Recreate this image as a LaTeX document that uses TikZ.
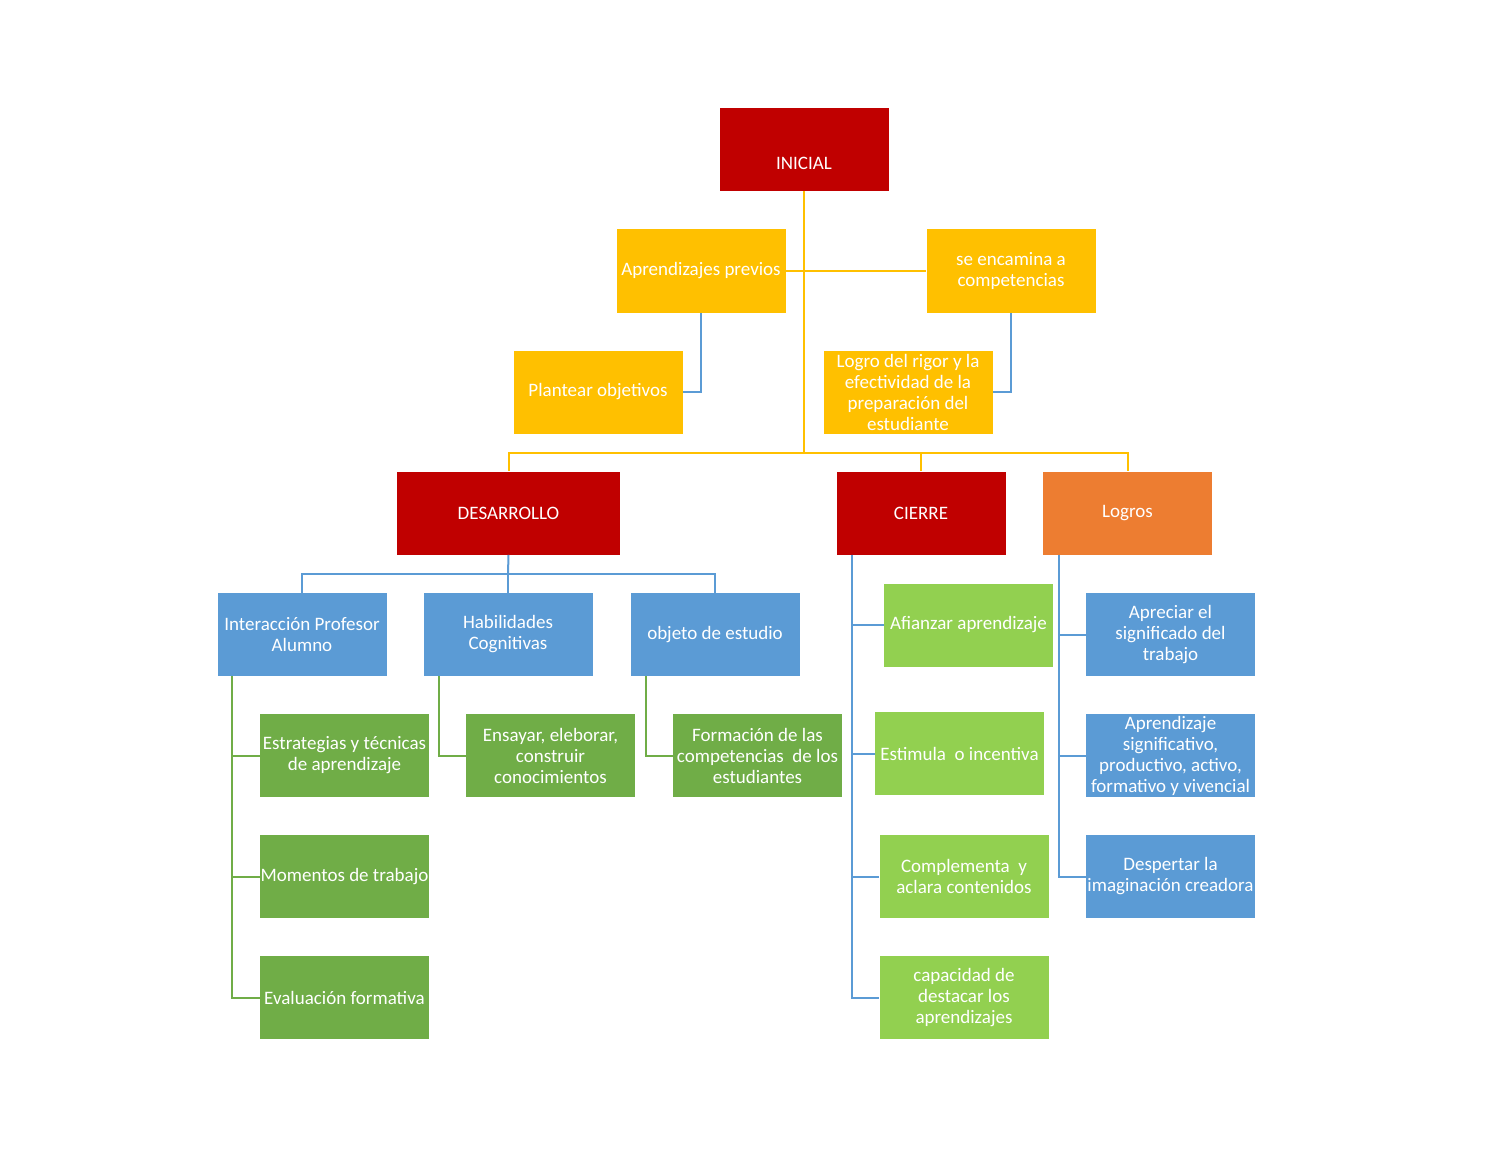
\documentclass[tikz,border=0pt]{standalone}
\usepackage{fontspec}
\setmainfont{Carlito}
\usepackage{tikz}
\usepackage{xcolor}

\definecolor{rojo}{HTML}{C00000}
\definecolor{amarillo}{HTML}{FFC000}
\definecolor{naranja}{HTML}{ED7D31}
\definecolor{azul}{HTML}{5B9BD5}
\definecolor{verde}{HTML}{70AD47}
\definecolor{verdeclaro}{HTML}{92D050}

\begin{document}
\begin{tikzpicture}[x=0.5pt,y=0.5pt,yscale=-1,xscale=1,
  caja/.style={inner sep=0pt,minimum width=84.5pt,minimum height=41.5pt,align=center,text=white,
    font=\fontsize{9.5}{10.5}\selectfont},
  linea/.style={line width=1pt}]
\useasboundingbox (0,0) rectangle (1496,1156);

% Nivel inicial
\node [caja,fill=rojo] (inicial) at (804,149.5) {\smash{\raisebox{-10pt}{INICIAL}}};
\node [caja,fill=amarillo] (previos) at (701,271) {Aprendizajes previos};
\node [caja,fill=amarillo] (encamina) at (1011,271) {se encamina a\\competencias};
\node [caja,fill=amarillo] (plantear) at (598,392) {Plantear objetivos};
\node [caja,fill=amarillo] (logro) at (908,392) {Logro del rigor y la\\efectividad de la\\preparación del\\estudiante};

% Segundo nivel
\node [caja,minimum width=111.5pt,fill=rojo] (desarrollo) at (508.5,513) {DESARROLLO};
\node [caja,fill=rojo] (cierre) at (921,513) {CIERRE};
\node [caja,fill=naranja] (logros) at (1127.5,513) {Logros};

% Desarrollo
\node [caja,fill=azul] (interaccion) at (302,634.5) {Interacción Profesor\\Alumno};
\node [caja,fill=azul] (habilidades) at (508,634.5) {Habilidades\\Cognitivas};
\node [caja,fill=azul] (objeto) at (715,634.5) {objeto de estudio};
\node [caja,fill=verde] (estrategias) at (344.5,755.5) {Estrategias y técnicas\\de aprendizaje};
\node [caja,fill=verde] (ensayar) at (550.5,755.5) {Ensayar, eleborar,\\construir\\conocimientos};
\node [caja,fill=verde] (formacion) at (757.5,755.5) {Formación de las\\competencias\ \ de los\\estudiantes};
\node [caja,fill=verde] (momentos) at (344.5,876.5) {Momentos de trabajo};
\node [caja,fill=verde] (evaluacion) at (344.5,997.5) {Evaluación formativa};

% Cierre
\node [caja,fill=verdeclaro] (afianzar) at (968.5,625) {Afianzar aprendizaje};
\node [caja,fill=verdeclaro] (estimula) at (959.5,753.5) {Estimula\ \ o incentiva};
\node [caja,fill=verdeclaro] (complementa) at (964,876.5) {Complementa\ \ y\\aclara contenidos};
\node [caja,fill=verdeclaro] (capacidad) at (964,997.5) {capacidad de\\destacar los\\aprendizajes};

% Logros
\node [caja,fill=azul] (apreciar) at (1170.5,634.5) {Apreciar el\\significado del\\trabajo};
\node [caja,fill=azul] (significativo) at (1170.5,755.5) {Aprendizaje\\significativo,\\productivo, activo,\\formativo y vivencial};
\node [caja,fill=azul] (despertar) at (1170.5,876.5) {Despertar la\\imaginación creadora};

\coordinate (bus) at (804,453);
\coordinate (dbus) at (508,574);

%Lineas amarillas
\draw [linea,amarillo] (inicial.south) -- (bus);
\draw [linea,amarillo] (previos.east) -- (encamina.west);
\draw [linea,amarillo] (desarrollo.north) |- (bus) -| (logros.north);
\draw [linea,amarillo] (cierre.north) -- (cierre.north |- bus);

%Lineas azules
\draw [linea,azul] (previos.south) |- (plantear.east);
\draw [linea,azul] (encamina.south) |- (logro.east);
\draw [linea,azul] (desarrollo.south) -- (dbus);
\draw [linea,azul] (interaccion.north) |- (dbus) -| (objeto.north);
\draw [linea,azul] (habilidades.north) -- (dbus);
\draw [linea,azul] ([xshift=8pt]cierre.south west) |- (capacidad.west);
\draw [linea,azul] ([xshift=8pt]cierre.south west) |- (afianzar.west);
\draw [linea,azul] ([xshift=8pt]cierre.south west) |- (estimula.west);
\draw [linea,azul] ([xshift=8pt]cierre.south west) |- (complementa.west);
\draw [linea,azul] ([xshift=8pt]logros.south west) |- (despertar.west);
\draw [linea,azul] ([xshift=8pt]logros.south west) |- (apreciar.west);
\draw [linea,azul] ([xshift=8pt]logros.south west) |- (significativo.west);

%Lineas verdes
\draw [linea,verde] ([xshift=7.5pt]interaccion.south west) |- (evaluacion.west);
\draw [linea,verde] ([xshift=7.5pt]interaccion.south west) |- (estrategias.west);
\draw [linea,verde] ([xshift=7.5pt]interaccion.south west) |- (momentos.west);
\draw [linea,verde] ([xshift=8pt]habilidades.south west) |- (ensayar.west);
\draw [linea,verde] ([xshift=8pt]objeto.south west) |- (formacion.west);

\end{tikzpicture}
\end{document}
